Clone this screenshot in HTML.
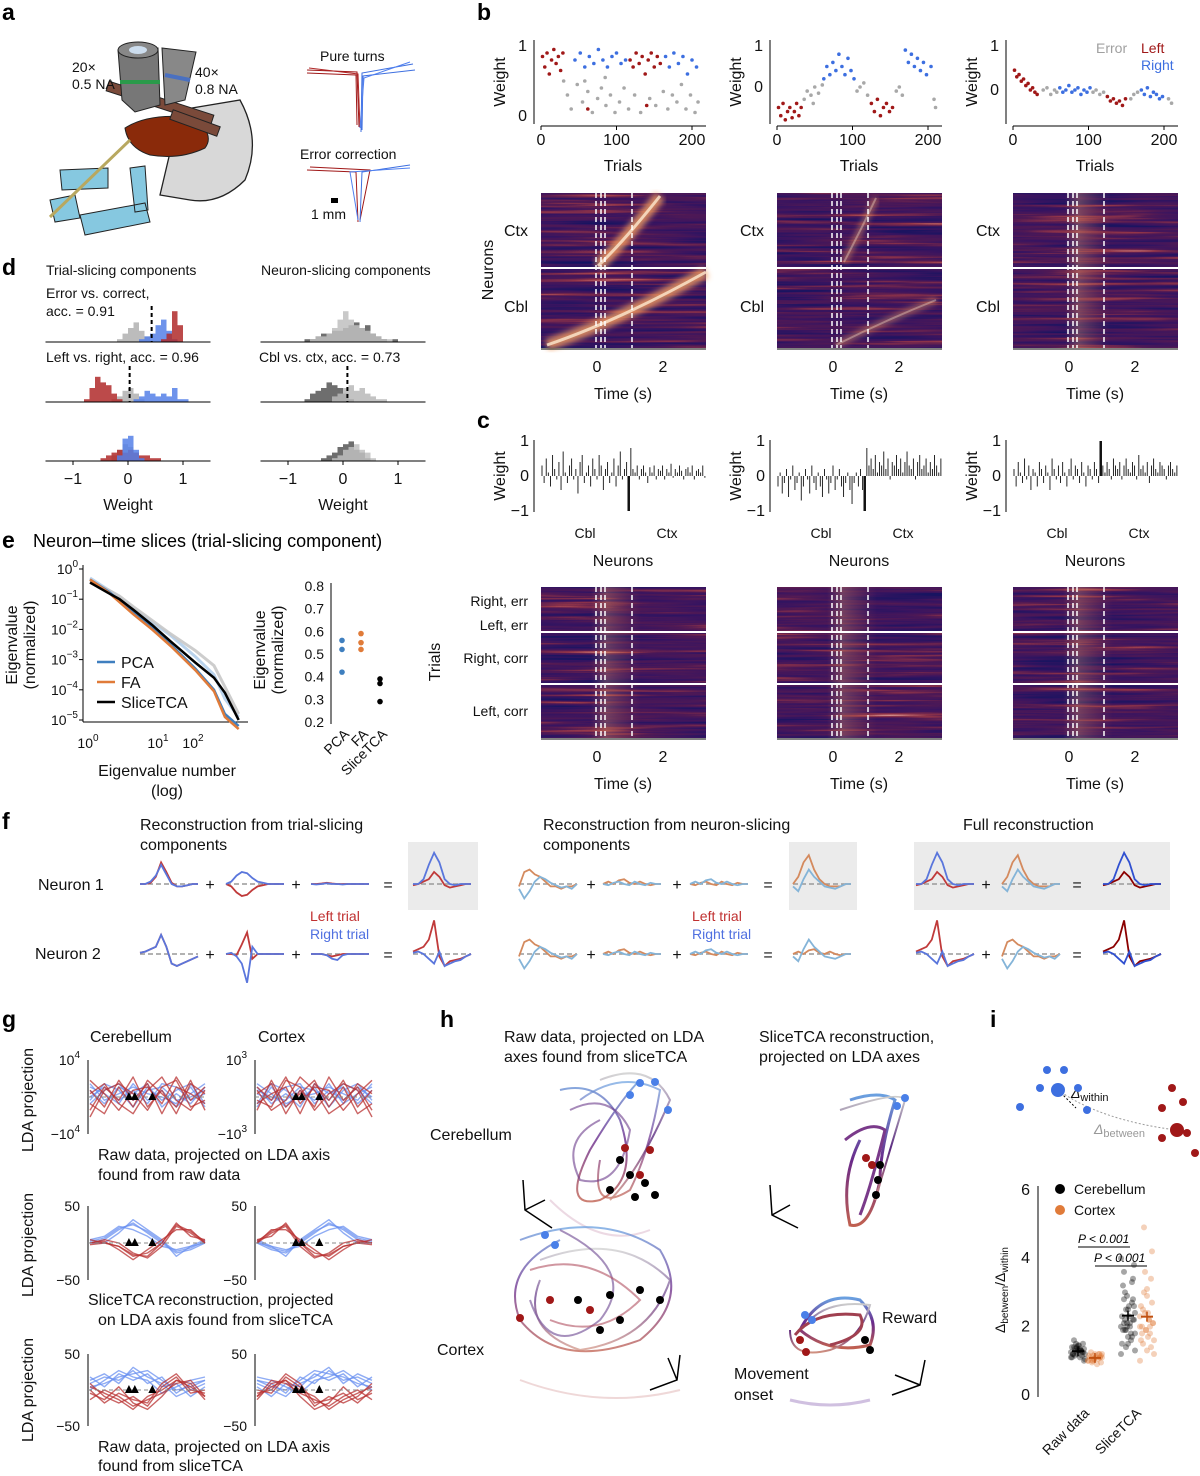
<!DOCTYPE html>
<html><head><meta charset="utf-8">
<style>
html,body{margin:0;padding:0;background:#fff;}
svg{display:block;font-family:"Liberation Sans",sans-serif;}
.t{font-size:16px;fill:#111;}
.s{font-size:14px;fill:#111;}
.L{font-size:23px;font-weight:bold;fill:#000;}
</style></head>
<body>
<svg id="fig" width="1200" height="1476" viewBox="0 0 1200 1476">
<defs>
<filter id="hm" x="0" y="0" width="1" height="1" filterUnits="objectBoundingBox" color-interpolation-filters="sRGB">
<feTurbulence type="fractalNoise" baseFrequency="0.006 0.28" numOctaves="3" seed="4"/>
<feColorMatrix type="matrix" values="1 0 0 0 0 1 0 0 0 0 1 0 0 0 0 0 0 0 0 1"/>
<feComponentTransfer>
<feFuncR type="table" tableValues="0.06 0.1 0.22 0.32 0.6 0.95"/>
<feFuncG type="table" tableValues="0.08 0.08 0.08 0.1 0.22 0.75"/>
<feFuncB type="table" tableValues="0.4 0.38 0.38 0.33 0.28 0.7"/>
</feComponentTransfer>
</filter>
<filter id="blur"><feGaussianBlur stdDeviation="3"/></filter>
<linearGradient id="glow" x1="0" x2="1" y1="0" y2="0">
<stop offset="0" stop-color="#f0a060" stop-opacity="0"/><stop offset="0.3" stop-color="#f7b070" stop-opacity="0.6"/><stop offset="1" stop-color="#e07040" stop-opacity="0"/>
</linearGradient>
<linearGradient id="traj1" x1="0" x2="0" y1="0" y2="1"><stop offset="0" stop-color="#6aa0e0"/><stop offset="0.5" stop-color="#6a2a8a"/><stop offset="1" stop-color="#c06050"/></linearGradient>
<linearGradient id="traj2" x1="0" x2="0" y1="0" y2="1"><stop offset="0" stop-color="#ccc"/><stop offset="0.5" stop-color="#5a2a80"/><stop offset="1" stop-color="#d09080"/></linearGradient>
</defs>

<text class="L" x="2" y="20">a</text>
<text class="L" x="477" y="20">b</text>
<text class="L" x="477" y="428">c</text>
<text class="L" x="2" y="275">d</text>
<text class="L" x="2" y="548">e</text>
<text class="L" x="2" y="829">f</text>
<text class="L" x="2" y="1027">g</text>
<text class="L" x="440" y="1027">h</text>
<text class="L" x="990" y="1027">i</text>

<g>
<path d="M180,110 L240,100 Q262,140 245,180 Q220,205 190,200 L160,195 Z" fill="#d8d8d8" stroke="#222" stroke-width="1.3"/>
<path d="M125,128 Q150,112 195,118 Q215,135 205,148 Q180,160 150,155 Q128,148 125,128Z" fill="#8a2a0a" stroke="#222"/>
<rect x="105" y="98" width="110" height="10" fill="#7a4a3a" stroke="#222" transform="rotate(18 160 103)"/>
<rect x="170" y="118" width="50" height="10" fill="#7a4a3a" stroke="#222" transform="rotate(20 195 123)"/>
<path d="M118,50 L158,48 L160,105 L135,112 L122,100Z" fill="#777" stroke="#222"/>
<ellipse cx="138" cy="50" rx="20" ry="8" fill="#888" stroke="#222"/>
<ellipse cx="138" cy="50" rx="9" ry="4" fill="#cde"/>
<path d="M120,82 L160,82" stroke="#2a9a4a" stroke-width="4"/>
<path d="M162,48 L196,52 L185,100 L165,105Z" fill="#888" stroke="#222"/>
<path d="M165,75 L190,80" stroke="#4a70c0" stroke-width="4"/>
<path d="M60,170 L108,168 L108,188 L62,190Z M50,200 L75,195 L80,218 L55,222Z M80,215 L145,203 L150,222 L85,235Z M130,168 L145,166 L148,210 L135,212Z" fill="#86c8e0" stroke="#222"/>
<line x1="50" y1="217" x2="130" y2="140" stroke="#b8a860" stroke-width="3"/>
</g>
<text class="s" x="72" y="72" font-size="15">20×</text>
<text class="s" x="72" y="89" font-size="15">0.5 NA</text>
<text class="s" x="195" y="77" font-size="15">40×</text>
<text class="s" x="195" y="94" font-size="15">0.8 NA</text>
<text class="s" x="320" y="61">Pure turns</text>
<text class="s" x="300" y="159">Error correction</text>
<rect x="331" y="198" width="7" height="5" fill="#000"/>
<text class="s" x="311" y="219">1 mm</text>
<g fill="none" stroke-width="1">
<path d="M307,70 L357,72 L359,127" stroke="#a01818"/><path d="M307,73 L356,75 L357,125" stroke="#a01818"/><path d="M309,68 L358,74 L360,128" stroke="#b02828"/>
<path d="M413,64 L362,73 L361,132" stroke="#3d6fe0"/><path d="M415,70 L363,76 L362,130" stroke="#3d6fe0"/><path d="M410,62 L364,78 L360,128" stroke="#5080f0"/>
</g>
<g fill="none" stroke-width="1">
<path d="M307,170 L356,172 L358,222" stroke="#a01818"/><path d="M310,167 L370,170 L360,220" stroke="#a01818"/>
<path d="M410,165 L362,172 L360,222" stroke="#3d6fe0"/><path d="M410,168 L350,172 L358,220" stroke="#5080f0"/>
</g>

<text class="s" x="1096" y="53" style="fill:#a0a0a0">Error</text>
<text class="s" x="1141" y="53" style="fill:#a01818">Left</text>
<text class="s" x="1141" y="70" style="fill:#3d6fe0">Right</text>

<text class="s" x="46" y="275">Trial-slicing components</text>
<text class="s" x="261" y="275">Neuron-slicing components</text>
<text class="s" x="46" y="298">Error vs. correct,</text>
<text class="s" x="46" y="316">acc. = 0.91</text>
<text class="s" x="46" y="362">Left vs. right, acc. = 0.96</text>
<text class="s" x="259" y="362">Cbl vs. ctx, acc. = 0.73</text>
<text class="t" x="128" y="510" text-anchor="middle">Weight</text>
<text class="t" x="343" y="510" text-anchor="middle">Weight</text>

<text x="33" y="547" style="font-size:18px">Neuron–time slices (trial-slicing component)</text>
<text class="t" transform="translate(17,645) rotate(-90)" text-anchor="middle">Eigenvalue</text>
<text class="t" transform="translate(35,645) rotate(-90)" text-anchor="middle">(normalized)</text>
<text class="t" x="167" y="776" text-anchor="middle">Eigenvalue number</text>
<text class="t" x="167" y="796" text-anchor="middle">(log)</text>
<text class="t" transform="translate(265,650) rotate(-90)" text-anchor="middle">Eigenvalue</text>
<text class="t" transform="translate(283,650) rotate(-90)" text-anchor="middle">(normalized)</text>

<text class="t" x="140" y="830">Reconstruction from trial-slicing</text>
<text class="t" x="140" y="850">components</text>
<text class="t" x="543" y="830">Reconstruction from neuron-slicing</text>
<text class="t" x="543" y="850">components</text>
<text class="t" x="963" y="830">Full reconstruction</text>
<text class="t" x="38" y="890">Neuron 1</text>
<text class="t" x="35" y="959">Neuron 2</text>
<rect x="408" y="842" width="70" height="68" fill="#ebebeb"/>
<rect x="789" y="842" width="68" height="68" fill="#ebebeb"/>
<rect x="914" y="842" width="256" height="68" fill="#ebebeb"/>
<text class="s" x="310" y="921" style="fill:#c03030">Left trial</text>
<text class="s" x="310" y="939" style="fill:#5070e0">Right trial</text>
<text class="s" x="692" y="921" style="fill:#c03030">Left trial</text>
<text class="s" x="692" y="939" style="fill:#5070e0">Right trial</text>

<text class="t" x="90" y="1042">Cerebellum</text>
<text class="t" x="258" y="1042">Cortex</text>
<text class="t" x="98" y="1160">Raw data, projected on LDA axis</text>
<text class="t" x="98" y="1180">found from raw data</text>
<text class="t" x="88" y="1305">SliceTCA reconstruction, projected</text>
<text class="t" x="98" y="1325">on LDA axis found from sliceTCA</text>
<text class="t" x="98" y="1452">Raw data, projected on LDA axis</text>
<text class="t" x="98" y="1471">found from sliceTCA</text>
<text class="t" transform="translate(33,1100) rotate(-90)" text-anchor="middle">LDA projection</text>
<text class="t" transform="translate(33,1245) rotate(-90)" text-anchor="middle">LDA projection</text>
<text class="t" transform="translate(33,1390) rotate(-90)" text-anchor="middle">LDA projection</text>

<text class="t" x="504" y="1042">Raw data, projected on LDA</text>
<text class="t" x="504" y="1062">axes found from sliceTCA</text>
<text class="t" x="759" y="1042">SliceTCA reconstruction,</text>
<text class="t" x="759" y="1062">projected on LDA axes</text>
<text class="t" x="430" y="1140">Cerebellum</text>
<text class="t" x="437" y="1355">Cortex</text>
<text class="t" x="882" y="1323">Reward</text>
<text class="t" x="734" y="1379">Movement</text>
<text class="t" x="734" y="1400">onset</text>
<g fill="none" stroke-width="2">
<path d="M560,1090 Q600,1080 620,1120 Q640,1180 600,1200 Q560,1210 590,1150 Q620,1100 640,1080" stroke="url(#traj1)" opacity="0.8"/>
<path d="M580,1100 Q620,1070 660,1090 Q650,1150 630,1190 Q590,1215 600,1160" stroke="url(#traj1)" opacity="0.7"/>
<path d="M600,1080 Q650,1060 670,1100 Q640,1170 610,1200" stroke="url(#traj2)" opacity="0.8"/>
<path d="M570,1110 Q610,1090 630,1130 Q620,1190 580,1180 Q560,1140 600,1120" stroke="#6a3a8a" opacity="0.6"/>
<path d="M550,1200 Q600,1250 650,1230" stroke="#e0c0d0" opacity="0.6"/>
<path d="M850,1100 Q880,1090 895,1100 Q880,1150 880,1180 Q870,1230 850,1225 Q840,1180 860,1140" stroke="url(#traj1)" stroke-width="3"/>
<path d="M840,1110 Q900,1090 905,1100 Q890,1150 875,1200" stroke="url(#traj2)" stroke-width="2"/>
<path d="M845,1140 Q870,1120 885,1130 Q870,1190 860,1215" stroke="#7a3a8a" stroke-width="3"/>
<path d="M520,1240 Q600,1210 660,1250 Q690,1300 640,1340 Q560,1370 520,1320 Q500,1270 560,1240" stroke="url(#traj1)" opacity="0.75"/>
<path d="M540,1260 Q620,1230 670,1280 Q650,1340 580,1350 Q520,1330 540,1280" stroke="url(#traj2)" opacity="0.7"/>
<path d="M560,1230 Q640,1270 600,1320 Q550,1360 530,1300" stroke="#8060a0" opacity="0.7"/>
<path d="M530,1270 Q590,1250 640,1300 Q600,1340 550,1320" stroke="#b05060" opacity="0.6"/>
<path d="M520,1380 Q600,1410 680,1390" stroke="#e8c8c8" opacity="0.7"/>
<path d="M800,1330 Q820,1290 860,1300 Q880,1320 870,1345 Q830,1355 800,1330" stroke="url(#traj1)" stroke-width="3"/>
<path d="M810,1320 Q830,1300 870,1305 Q860,1340 830,1350 Q790,1360 790,1330" stroke="url(#traj2)" stroke-width="2"/>
<path d="M795,1335 Q815,1310 860,1315 Q870,1335 830,1345" stroke="#a04050" stroke-width="3"/>
<path d="M790,1400 Q830,1410 870,1400" stroke="#d0c0e0" stroke-width="3"/>
</g>
<g stroke="#000" stroke-width="1.5" fill="none">
<path d="M523,1180 L525,1210 L552,1228 M525,1210 L545,1200"/>
<path d="M770,1185 L772,1215 L798,1228 M772,1215 L790,1205"/>
<path d="M680,1355 L677,1380 L650,1390 M677,1380 L668,1358"/>
<path d="M925,1360 L920,1385 L892,1395 M920,1385 L895,1375"/>
</g>

<g>
<path d="M1058,1090 Q1100,1120 1176,1130" stroke="#999" stroke-dasharray="2 2" fill="none"/>
<path d="M1058,1090 L1076,1108" stroke="#000" stroke-dasharray="2 2" fill="none"/>
</g>
<text class="s" x="1071" y="1098" style="font-style:italic">Δ<tspan font-size="11" dy="3" font-style="normal">within</tspan></text>
<text class="s" x="1094" y="1134" style="font-style:italic;fill:#999">Δ<tspan font-size="11" dy="3" font-style="normal">between</tspan></text>
<text class="s" x="1074" y="1194">Cerebellum</text>
<text class="s" x="1074" y="1215">Cortex</text>
<circle cx="1060" cy="1189" r="5" fill="#000"/>
<circle cx="1060" cy="1210" r="5" fill="#e07b39"/>
<text class="s" transform="translate(1005,1290) rotate(-90)" text-anchor="middle">Δ<tspan font-size="10" dy="3">between</tspan><tspan dy="-3">/Δ</tspan><tspan font-size="10" dy="3">within</tspan></text>
<text class="s" transform="translate(1090,1414) rotate(-45)" text-anchor="end">Raw data</text>
<text class="s" transform="translate(1142,1414) rotate(-45)" text-anchor="end">SliceTCA</text>
<text x="1078" y="1243" style="font-size:12px;font-style:italic">P &lt; 0.001</text>
<text x="1094" y="1262" style="font-size:12px;font-style:italic">P &lt; 0.001</text>
<line x1="1078" y1="1247" x2="1130" y2="1247" stroke="#000"/>
<line x1="1095" y1="1266" x2="1147" y2="1266" stroke="#000"/>
</svg>

<script>
const svg=document.getElementById('fig');
const NS='http://www.w3.org/2000/svg';
function mk(tag,attrs,name,parent){
  const e=document.createElementNS(NS,tag);
  for(const k in attrs) e.setAttribute(k,attrs[k]);
  
  
  (parent||svg).appendChild(e);
  return e;
}
function txt(x,y,s,cls,name,anchor,extra){
  const e=mk('text',Object.assign({x:x,y:y,class:cls||'s','text-anchor':anchor||'middle'},extra||{}),name);
  e.textContent=s;return e;
}
const RED='#a01818', BLUE='#3d6fe0', GREY='#a8a8a8', ORANGE='#e07b39';
const COLS=[541,777,1013];

/* ---------- panel b scatter data ---------- */
const bTrialTicks=[0,100,200];
const b1Red=[[2,.85],[5,.7],[8,.9],[11,.6],[14,.8],[17,.95],[20,.75],[23,.85],[26,.65],[29,.9],[118,.8],[122,.7],[126,.9],[130,.75],[134,.85],[138,.6],[142,.8],[146,.9],[150,.7],[154,.85],[158,.75],[62,.1],[140,.15]];
const b1Blue=[[45,.8],[52,.9],[58,.7],[64,.85],[70,.75],[76,.95],[82,.8],[88,.7],[94,.85],[100,.9],[106,.75],[112,.8],[165,.85],[170,.7],[176,.9],[182,.75],[188,.85],[194,.6],[200,.8],[206,.7]];
const b1Grey=[[35,.3],[40,.1],[48,.45],[55,.2],[62,.35],[68,.05],[75,.25],[80,.4],[86,.15],[92,.3],[98,.05],[104,.2],[110,.4],[116,.1],[124,.3],[132,.05],[144,.25],[152,.15],[162,.35],[168,.1],[174,.3],[180,.2],[186,.45],[192,.1],[198,.3],[204,.05],[208,.2],[30,.5],[58,.5],[85,.55]];
const b2Red=[[2,-.5],[5,-.7],[8,-.4],[11,-.8],[14,-.6],[17,-.5],[20,-.75],[23,-.6],[26,-.4],[29,-.7],[32,-.5],[125,-.4],[129,-.6],[133,-.3],[137,-.7],[141,-.5],[145,-.4],[149,-.6],[153,-.5]];
const b2Blue=[[62,.2],[66,.5],[70,.3],[74,.6],[78,.4],[82,.8],[86,.5],[90,.3],[94,.7],[98,.4],[102,.2],[170,.9],[174,.6],[178,.8],[182,.5],[186,.7],[190,.4],[194,.6],[198,.3],[204,.5]];
const b2Grey=[[36,-.3],[40,-.1],[45,-.2],[50,0],[55,-.15],[60,.05],[106,-.1],[110,0],[115,.1],[120,-.2],[158,-.1],[162,0],[166,-.2],[208,-.3],[210,-.5],[48,-.4]];
const b3Red=[[2,.45],[5,.3],[8,.35],[11,.2],[14,.25],[17,.1],[20,.15],[23,0],[26,.05],[29,-.05],[32,-.1],[125,-.15],[129,-.25],[133,-.2],[137,-.3],[141,-.25],[145,-.35],[149,-.2]];
const b3Blue=[[62,.05],[66,-.05],[70,0],[74,.1],[78,-.05],[82,0],[86,.05],[90,-.1],[94,0],[98,-.05],[102,.05],[170,0],[174,-.1],[178,.05],[182,-.15],[186,-.05],[190,-.1],[194,-.2],[198,-.15]];
const b3Grey=[[40,0],[45,.05],[50,-.1],[55,0],[58,-.05],[106,-.05],[110,0],[115,-.1],[120,-.05],[156,-.2],[160,-.1],[165,-.05],[206,-.2],[210,-.3]];
const bY=[{one:46,zero:116},{one:46,zero:87},{one:46,zero:90}];
const bData=[[b1Grey,b1Red,b1Blue],[b2Grey,b2Red,b2Blue],[b3Grey,b3Red,b3Blue]];
bData.forEach((sets,p)=>{
  const ox=COLS[p], yz=bY[p];
  const xs=t=>ox+t*0.755, ys=v=>yz.zero-(yz.zero-yz.one)*v;
  mk('line',{x1:ox-7,y1:40,x2:ox-7,y2:124,stroke:'#000'},'b-y-axis');
  mk('line',{x1:ox,y1:126,x2:ox+165,y2:126,stroke:'#000'},'b-x-axis');
  [GREY,RED,BLUE].forEach((c,si)=>sets[si].forEach(d=>{
    mk('circle',{cx:xs(d[0]),cy:ys(d[1]),r:1.8,fill:c},'b-trial-point');
  }));
  bTrialTicks.forEach(t=>{txt(xs(t),145,String(t),'t','b-x-tick-label');
    mk('line',{x1:xs(t),y1:126,x2:xs(t),y2:130,stroke:'#000'},'b-x-tick');});
  txt(ox-14,ys(1)+5,'1','t','b-y-tick-label','end');
  txt(ox-14,ys(0)+5,'0','t','b-y-tick-label','end');
  txt(ox+82,171,'Trials','t','b-x-title');
  txt(0,0,'Weight','t','b-y-title','middle',{transform:`translate(${ox-36},82) rotate(-90)`});
});

/* ---------- heatmaps ---------- */
function heatmap(ox,y0,h,name){
  const g=mk('g',{},name);
  mk('rect',{x:ox,y:y0,width:165,height:h,fill:'#2a1448'},'heatmap-bg',g);
  mk('rect',{x:ox,y:y0,width:165,height:h,filter:'url(#hm)'},'heatmap-texture',g);
  return g;
}
const bBands=[["M547,345 Q620,320 706,272","M598,266 Q625,240 660,196"],["M600,345 Q650,320 700,300","M608,262 Q625,230 640,198"],[]];
COLS.forEach((ox,p)=>{
  const g=heatmap(ox,193,155,'b-heatmap');
  bBands[p].forEach(d=>{
    const s=d.replace(/(\d+),/g,(m,a)=>(+a+ox-541)+',');
    mk('path',{d:s,stroke:'#f5a060',fill:'none','stroke-width':p==0?12:6,opacity:p==0?0.8:0.5,filter:'url(#blur)'},'heatmap-band',g);
    mk('path',{d:s,stroke:'#fde8d0',fill:'none','stroke-width':p==0?3:2,opacity:p==0?0.8:0.35},'heatmap-band-core',g);
  });
  if(p==2) mk('rect',{x:ox+52,y:193,width:45,height:155,fill:'url(#glow)',opacity:0.5},'heatmap-glow',g);
  mk('line',{x1:ox,y1:268,x2:ox+165,y2:268,stroke:'#fff','stroke-width':2},'heatmap-area-divider',g);
  [55,60,64,91].forEach(dx=>mk('line',{x1:ox+dx,y1:193,x2:ox+dx,y2:348,stroke:'#fff','stroke-width':1.5,'stroke-dasharray':'5 3'},'event-marker',g));
  mk('line',{x1:ox,y1:349,x2:ox+165,y2:349,stroke:'#000'},'heatmap-x-axis');
  txt(ox-13,236,'Ctx','t','ctx-label','end');
  txt(ox-13,312,'Cbl','t','cbl-label','end');
  txt(ox+56,372,'0','t','time-tick-label'); txt(ox+122,372,'2','t','time-tick-label');
  txt(ox+82,399,'Time (s)','t','time-x-title');
});
txt(0,0,'Neurons','t','b-heatmap-y-title','middle',{transform:'translate(493,270) rotate(-90)'});

/* ---------- panel c bars ---------- */
const c1=[.3,-.2,.5,.1,-.3,.6,.2,-.1,.4,-.4,.7,.1,-.2,.3,.5,-.1,.2,-.5,.4,.6,-.2,.1,.3,-.3,.5,.2,-.1,.6,.3,-.4,.2,.4,-.2,.1,.5,-.3,.3,.7,-.1,.2,.4,-1,.8,.2,.1,.3,-.1,.2,.3,.1,-.2,.25,.1,.3,-.1,.2,.15,.3,-.1,.2,.1,.35,-.05,.2,.1,.3,.15,-.1,.2,.25,.1,.3,-.1,.15,.2,.1,.3,-.05];
const c2=[-.3,.1,-.5,-.2,.2,-.6,-.1,.3,-.4,-.2,.1,-.7,-.3,.2,-.1,-.5,.3,-.2,-.4,.1,-.3,-.6,.2,-.1,-.5,-.2,.3,-.4,-.1,.2,-.3,-.6,-.2,.1,-.4,-.8,-.2,.1,-.3,.2,-.4,-1,.8,.3,.5,.2,.6,.1,.4,.3,.7,.2,.5,-.1,.4,.3,.6,.2,.5,.1,.4,.7,.3,.2,.5,-.1,.4,.6,.2,.3,.5,.1,.4,.2,.6,.3,.1,.5];
const c3=[.2,-.3,.4,.1,-.2,.5,-.1,.3,-.4,.2,.1,-.3,.4,.2,-.2,.3,.1,-.4,.5,.2,-.1,.3,-.2,.4,.1,-.3,.2,.5,-.1,.3,.2,-.2,.4,.1,-.3,.3,.2,-.1,.4,.2,-.2,1,.3,.1,.4,.2,-.1,.5,.3,.2,.4,-.1,.3,.5,.2,.1,.4,.3,-.1,.6,.2,.3,.1,.4,-.2,.3,.5,.2,.1,.4,.3,.2,-.1,.3,.4,.2,.1,.3];
[c1,c2,c3].forEach((arr,p)=>{
  const ox=COLS[p], ys=v=>476-35*v, step=165/arr.length;
  mk('line',{x1:ox-7,y1:440,x2:ox-7,y2:512,stroke:'#000'},'c-y-axis');
  arr.forEach((v,i)=>{
    const big=Math.abs(v)>=0.95;
    mk('line',{x1:ox+i*step+1,x2:ox+i*step+1,y1:ys(0),y2:ys(v),stroke:'#111','stroke-width':big?2.5:0.9},'c-neuron-bar');
  });
  txt(ox-12,446,'1','t','c-y-tick-label','end');txt(ox-12,481,'0','t','c-y-tick-label','end');txt(ox-12,516,'−1','t','c-y-tick-label','end');
  txt(0,0,'Weight','t','c-y-title','middle',{transform:`translate(${ox-36},476) rotate(-90)`});
  txt(ox+44,538,'Cbl','s','c-cbl-label');txt(ox+126,538,'Ctx','s','c-ctx-label');
  txt(ox+82,566,'Neurons','t','c-x-title');
  const g=heatmap(ox,587,151,'c-heatmap');
  mk('rect',{x:ox+50,y:587,width:50,height:151,fill:'url(#glow)',opacity:0.45},'heatmap-glow',g);
  [632,684].forEach(y=>mk('line',{x1:ox,y1:y,x2:ox+165,y2:y,stroke:'#fff','stroke-width':2},'trial-type-divider',g));
  [55,60,64,91].forEach(dx=>mk('line',{x1:ox+dx,y1:587,x2:ox+dx,y2:738,stroke:'#fff','stroke-width':1.5,'stroke-dasharray':'5 3'},'event-marker',g));
  mk('line',{x1:ox,y1:739,x2:ox+165,y2:739,stroke:'#000'},'heatmap-x-axis');
  txt(ox+56,762,'0','t','time-tick-label');txt(ox+122,762,'2','t','time-tick-label');
  txt(ox+82,789,'Time (s)','t','time-x-title');
});
[['Right, err',606],['Left, err',630],['Right, corr',663],['Left, corr',716]].forEach(d=>txt(528,d[1],d[0],'s','trial-type-label','end'));
txt(0,0,'Trials','t','c-heatmap-y-title','middle',{transform:'translate(440,662) rotate(-90)'});

/* ---------- panel d histograms (bins of 0.1 from -1.5) ---------- */
const dL1Grey=[0,0,0,0,0,0,0,0,0,0,0,0,0,1,3,5,7,4,2,0,0,0,0,0,0,0,0,0,0,0];
const dL1Blue=[0,0,0,0,0,0,0,0,0,0,0,0,0,0,0,0,0,1,2,3,6,8,4,1,0,0,0,0,0,0];
const dL1Red =[0,0,0,0,0,0,0,0,0,0,0,0,0,0,0,0,0,0,0,0,0,1,3,11,6,0,0,0,0,0];
const dL2Grey=[0,0,0,0,0,0,0,0,0,0,0,0,1,2,4,5,3,1,0,0,0,0,0,0,0,0,0,0,0,0];
const dL2Red =[0,0,0,0,0,0,0,1,5,9,7,6,3,1,0,0,0,0,0,0,0,0,0,0,0,0,0,0,0,0];
const dL2Blue=[0,0,0,0,0,0,0,0,0,0,0,0,0,0,0,0,1,2,4,3,2,3,2,5,1,1,0,0,0,0];
const dL3Grey=[0,0,0,0,0,0,0,0,0,0,0,0,2,4,6,5,3,1,0,0,0,0,0,0,0,0,0,0,0,0];
const dL3Red =[0,0,0,0,0,0,0,0,0,0,1,2,3,4,3,4,3,2,2,1,1,0,0,0,0,0,0,0,0,0];
const dL3Blue=[0,0,0,0,0,0,0,0,0,0,0,0,0,2,8,9,4,1,0,0,0,0,0,0,0,0,0,0,0,0];
const dR1Light=[0,0,0,0,0,0,0,0,0,1,2,2,3,5,8,11,8,6,5,4,3,2,1,1,0,0,0,0,0,0];
const dR1Dark =[0,0,0,0,0,0,0,0,1,1,2,3,3,4,4,5,6,7,5,6,3,2,1,0,1,0,0,0,0,0];
const dR2Dark =[0,0,0,0,0,0,0,0,1,3,4,5,7,6,5,3,1,0,0,0,0,0,0,0,0,0,0,0,0,0];
const dR2Light=[0,0,0,0,0,0,0,0,0,0,0,0,0,2,3,5,6,4,5,3,2,1,1,0,0,0,0,0,0,0];
const dR3Dark =[0,0,0,0,0,0,0,0,0,0,0,1,2,3,5,6,7,4,3,1,0,0,0,0,0,0,0,0,0,0];
const dR3Light=[0,0,0,0,0,0,0,0,0,0,0,0,0,1,2,4,5,6,4,3,1,0,0,0,0,0,0,0,0,0];
const dTicks=[-1,0,1];
const dPanels=[
 {x0:128,base:342,sets:[[dL1Grey,'#b0b0b0'],[dL1Blue,'#5580e8'],[dL1Red,'#b02a2a']],dash:0.43},
 {x0:128,base:402,sets:[[dL2Grey,'#b0b0b0'],[dL2Red,'#b02a2a'],[dL2Blue,'#5580e8']],dash:0.03},
 {x0:128,base:461,sets:[[dL3Grey,'#b0b0b0'],[dL3Red,'#b02a2a'],[dL3Blue,'#5580e8']],ticks:true},
 {x0:343,base:342,sets:[[dR1Dark,'#555'],[dR1Light,'#c0c0c0']]},
 {x0:343,base:402,sets:[[dR2Dark,'#555'],[dR2Light,'#b8b8b8']],dash:0.08},
 {x0:343,base:461,sets:[[dR3Dark,'#555'],[dR3Light,'#c0c0c0']],ticks:true}];
dPanels.forEach(P=>{
  const xs=v=>P.x0+55*v;
  P.sets.forEach(([arr,col])=>arr.forEach((c,i)=>{ if(c>0)
    mk('rect',{x:xs(-1.5+i*0.1),y:P.base-c*2.8,width:5.5,height:c*2.8,fill:col,opacity:0.85},'d-hist-bar');}));
  mk('line',{x1:xs(-1.5),y1:P.base,x2:xs(1.5),y2:P.base,stroke:'#000'},'d-x-axis');
  if(P.dash!==undefined) mk('line',{x1:xs(P.dash),x2:xs(P.dash),y1:P.base-36,y2:P.base,stroke:'#000','stroke-width':2,'stroke-dasharray':'4 3'},'d-threshold');
  if(P.ticks) dTicks.forEach(t=>{txt(xs(t),484,t<0?'−1':String(t),'t','d-x-tick-label');
    mk('line',{x1:xs(t),x2:xs(t),y1:P.base,y2:P.base+4,stroke:'#000'},'d-x-tick');});
});

/* ---------- panel e ---------- */
const eN=[1,2,3,5,10,20,50,100,150,250];
const ePCA=[-0.35,-0.75,-1.05,-1.45,-1.95,-2.5,-3.3,-4.0,-4.8,-5.2];
const eFA=[-0.35,-0.78,-1.1,-1.5,-2.0,-2.55,-3.35,-4.05,-4.9,-5.3];
const eSlice=[-0.45,-0.8,-1.0,-1.35,-1.85,-2.4,-3.1,-3.6,-4.1,-5.0];
const ePCAlight=[-0.3,-0.7,-0.95,-1.3,-1.75,-2.2,-2.9,-3.5,-4.3,-4.9];
const eSliceLight=[-0.4,-0.7,-0.9,-1.25,-1.7,-2.15,-2.7,-3.2,-3.9,-4.8];
const eYTicks=[0,-1,-2,-3,-4,-5];
const ex=n=>90+Math.log10(n)*62;
const eyy=v=>569+(-v)*30.2;
mk('line',{x1:83,y1:565,x2:83,y2:722,stroke:'#000'},'e-y-axis');
mk('line',{x1:83,y1:722,x2:248,y2:722,stroke:'#000'},'e-x-axis');
eYTicks.forEach(t=>{const e=txt(78,eyy(t)+5,'10','s','e-y-tick-label','end');
  const s=document.createElementNS(NS,'tspan');s.setAttribute('font-size','10');s.setAttribute('dy','-7');s.textContent=t<0?'−'+(-t):String(t);e.appendChild(s);
  mk('line',{x1:79,x2:83,y1:eyy(t),y2:eyy(t),stroke:'#000'},'e-y-tick');});
[[88,0],[158,1],[193,2]].forEach(([x,p])=>{const e=txt(x,748,'10','s','e-x-tick-label');
  const s=document.createElementNS(NS,'tspan');s.setAttribute('font-size','10');s.setAttribute('dy','-7');s.textContent=String(p);e.appendChild(s);});
function eLine(arr,col,w,name,op){
  mk('polyline',{points:arr.map((v,i)=>ex(eN[i])+','+eyy(v)).join(' '),fill:'none',stroke:col,'stroke-width':w,opacity:op||1},name);
}
eLine(ePCAlight,'#a8c8e8',3,'e-pca-light-line',0.8);
eLine(eSliceLight,'#c8c8c8',3,'e-slicetca-light-line',0.9);
eLine(ePCA,'#3f7fbf',2.5,'e-pca-line');
eLine(eFA,ORANGE,2.5,'e-fa-line');
eLine(eSlice,'#000',2.5,'e-slicetca-line');
[['PCA','#3f7fbf',662],['FA',ORANGE,682],['SliceTCA','#000',702]].forEach(([n,c,y])=>{
  mk('line',{x1:97,x2:115,y1:y,y2:y,stroke:c,'stroke-width':2.5},'e-legend-swatch');
  txt(121,y+6,n,'t','e-legend-label','start');});
const e2Cats=['PCA','FA','SliceTCA'];
const e2Vals=[[0.56,0.52,0.42],[0.59,0.55,0.52],[0.39,0.37,0.29]];
const e2Cols=['#3f7fbf',ORANGE,'#000'];
const e2Ticks=[0.2,0.3,0.4,0.5,0.6,0.7,0.8];
const e2y=v=>722-(v-0.2)*226.7, e2x=i=>322+i*19;
mk('line',{x1:331,y1:583,x2:331,y2:724,stroke:'#000'},'e2-y-axis');
e2Ticks.forEach(t=>{txt(324,e2y(t)+5,t.toFixed(1),'s','e2-y-tick-label','end');});
e2Vals.forEach((vals,i)=>vals.forEach(v=>mk('circle',{cx:e2x(i)+20,cy:e2y(v),r:2.8,fill:e2Cols[i]},'e2-point')));
e2Cats.forEach((c,i)=>txt(0,0,c,'s','e2-x-label','end',{transform:`translate(${e2x(i)+28},735) rotate(-45)`}));

/* ---------- panel f mini plots ---------- */
const fPeak=[0,0,.05,.3,.9,.5,.05,-.1,-.1,-.05,0,0];
const fPeakB=[0,0,.1,.35,.8,.4,0,-.1,-.1,-.05,0,0];
const fUp=[0,.1,.35,.5,.45,.25,.1,.05,0,0,0,0];
const fDown=[0,-.1,-.35,-.5,-.45,-.25,-.1,-.05,0,0,0,0];
const fFlat=[0,0,.02,.05,.02,0,0,0,0,0,0,0];
const fFlat2=[0,-.02,0,.03,0,0,-.02,0,0,0,0,0];
const fSumB=[0,0,.2,.8,1.3,.9,.2,0,-.05,0,0,0];
const fSumR=[-.05,0,.1,.2,.5,.3,-.05,-.15,-.1,-.05,0,0];
const fN2a=[.05,.1,.2,.3,.8,.3,-.4,-.5,-.4,-.3,-.2,-.1];
const fN2bR=[0,0,-.05,.4,.9,-.2,0,0,0,0,0,0];
const fN2bB=[0,.05,-.1,-.4,-1.2,.3,0,0,0,0,0,0];
const fN2cR=[0,0,0,-.05,-.1,-.05,0,0,0,0,0,0];
const fN2cB=[0,0,0,-.05,-.2,-.25,-.05,0,0,0,0,0];
const fN2sR=[.1,.2,.3,.6,1.4,-.1,-.5,-.3,-.25,-.2,-.1,0];
const fN2sB=[.05,.1,0,-.2,-.4,.1,-.5,-.4,-.3,-.25,-.1,0];
const fNa=[-.1,.5,.6,.4,.3,.1,-.1,-.1,-.2,-.1,-.1,0];
const fNb=[-.2,-.6,-.3,.1,.3,.2,.05,-.05,-.15,-.1,-.2,0];
const fNc=[0,.1,0,.15,.2,.05,0,.1,0,-.05,0,0];
const fNd=[0,-.05,.05,.1,0,-.05,.1,0,-.05,.05,0,0];
const fNsumR=[0,.3,.9,1.2,.6,.2,0,-.1,-.1,-.1,0,0];
const fNsumB=[-.1,-.3,.2,.6,.3,.1,-.1,-.15,-.2,-.1,0,0];
const fOR='#d48a5e', fLB='#84b4d8', fR='#c03a3a', fB='#5a76dc';
const fPlots=[
 [140,884,fPeak,fPeakB,fR,fB],[226,884,fDown,fUp,fR,fB],[311,884,fFlat,fFlat2,fR,fB],[413,884,fSumR,fSumB,fR,fB],
 [140,954,fN2a,fN2a,fR,fB],[226,954,fN2bR,fN2bB,fR,fB],[311,954,fN2cR,fN2cB,fR,fB],[413,954,fN2sR,fN2sB,fR,fB],
 [519,884,fNa,fNb,fOR,fLB],[603,884,fNc,fNd,fOR,fLB],[690,884,fNd,fNc,fOR,fLB],[793,884,fNsumR,fNsumB,fOR,fLB],
 [519,954,fNa,fNb,fOR,fLB],[603,954,fNc,fNd,fOR,fLB],[690,954,fNd,fNc,fOR,fLB],[793,954,fNc,fNsumB,fOR,fLB],
 [916,884,fSumR,fSumB,fR,fB],[1002,884,fNsumR,fNsumB,fOR,fLB],[1103,884,fSumR,fSumB,'#8b0000','#3050d0'],
 [916,954,fN2sR,fN2sB,fR,fB],[1002,954,fNa,fNb,fOR,fLB],[1103,954,fN2sR,fN2sB,'#8b0000','#3050d0']];
fPlots.forEach(([x,y,r,b,cr,cb])=>{
  mk('line',{x1:x,x2:x+58,y1:y,y2:y,stroke:'#999','stroke-width':1.5,'stroke-dasharray':'5 3'},'f-zero-line');
  [[r,cr],[b,cb]].forEach(([a,c])=>mk('polyline',{points:a.map((v,i)=>(x+i*58/(a.length-1))+','+(y-v*24)).join(' '),fill:'none',stroke:c,'stroke-width':1.8},'f-trace'));
});
[[210,'+'],[296,'+'],[388,'='],[591,'+'],[677,'+'],[768,'='],[986,'+'],[1077,'=']].forEach(([x,s])=>{
  txt(x,890,s,'t','f-operator');txt(x,960,s,'t','f-operator');});

/* ---------- panel g ---------- */
const gR1=[[.2,-.3,.5,-.1,.4,-.5,.3,.1,-.2],[-.4,.3,-.1,.6,-.3,.2,-.5,.4,.1],[.5,.1,-.4,.2,.3,-.2,.6,-.1,.3],[-.2,-.5,.3,-.3,.5,.1,-.3,.5,-.4],[.1,.4,-.2,-.5,.2,.6,-.1,-.4,.2],[-.6,.2,.4,.1,-.4,.3,.5,-.3,-.1]];
const gB1=[[.3,.1,-.2,.4,-.1,.2,-.3,.1,.4],[-.1,.4,.2,-.3,.3,-.1,.2,.4,-.2],[.2,-.2,.3,.1,.4,-.3,.1,-.2,.3],[0,.3,-.1,.2,-.2,.4,.3,-.1,.1],[.4,-.1,.1,.3,.1,0,-.2,.3,-.3],[-.2,.2,.4,-.1,.2,.3,-.1,0,.2]];
const gR2=[[0,.1,0,-.3,-.45,-.1,.5,.3,0],[.1,0,-.1,-.4,-.3,0,.6,.2,.1],[0,.05,-.2,-.5,-.2,.1,.4,.4,0],[-.05,0,-.1,-.35,-.4,0,.55,.35,.05]];
const gB2=[[0,.1,.4,.6,.3,0,-.3,-.2,0],[.1,.2,.5,.4,.2,-.1,-.2,-.1,.1],[0,0,.3,.7,.4,.1,-.4,-.1,0],[.05,.15,.45,.55,.35,.05,-.25,-.15,.05]];
const gR3=[[-.1,-.3,.1,-.4,-.6,-.2,.3,.1,-.2],[.2,-.2,-.4,-.2,-.5,.1,.4,-.1,0],[-.3,0,-.2,-.5,-.3,-.1,.2,.3,-.2],[0,-.4,-.1,-.3,-.4,.2,.5,0,-.1],[.1,-.1,-.3,-.6,-.2,0,.3,.2,-.3]];
const gB3=[[.2,.4,.3,.6,.2,.4,-.1,.2,.3],[.4,.1,.5,.3,.5,.1,.2,-.2,.1],[0,.3,.6,.4,.3,-.1,.1,.3,.4],[.3,.5,.2,.7,.4,.2,-.2,0,.2],[.1,.2,.4,.5,.6,.3,0,.1,.3]];
const gRows=[{cy:1097,h:37,data:[gR1,gB1],ticks:[['10',4,'−10',4],['10',3,'−10',3]]},
             {cy:1243,h:37,data:[gR2,gB2],ticks:[['50','','−50',''],['50','','−50','']]},
             {cy:1390,h:36,data:[gR3,gB3],ticks:[['50','','−50',''],['50','','−50','']]}];
const gTri=[0.35,0.4,0.55];
gRows.forEach(R=>[88,255].forEach((ox,pi)=>{
  mk('line',{x1:ox,y1:R.cy-R.h,x2:ox,y2:R.cy+R.h,stroke:'#000'},'g-y-axis');
  const [reds,blues]=R.data;
  [[blues,'#6a90f0'],[reds,'#b83030']].forEach(([set,c])=>set.forEach((arr)=>{
    const a=pi? arr.slice().reverse():arr;
    let d='';a.forEach((v,i)=>{const x=ox+2+i*115/(a.length-1),y=R.cy-v*R.h*0.9;d+=(i?' L':'M')+x.toFixed(1)+','+y.toFixed(1);});
    mk('path',{d:d,fill:'none',stroke:c,'stroke-width':1.4,opacity:0.75,'stroke-linejoin':'round'},'g-trial-trace');}));
  mk('line',{x1:ox,x2:ox+117,y1:R.cy,y2:R.cy,stroke:'#888','stroke-dasharray':'4 3'},'g-zero-line');
  gTri.forEach(f=>{const x=ox+117*f;mk('path',{d:`M${x-4},${R.cy+3} L${x+4},${R.cy+3} L${x},${R.cy-5}Z`,fill:'#000'},'g-event-marker');});
  const tk=R.ticks[pi];
  const t1=txt(ox-8,R.cy-R.h+5,tk[0],'s','g-y-tick-label','end');
  if(tk[1]!==''){const s=document.createElementNS(NS,'tspan');s.setAttribute('font-size','10');s.setAttribute('dy','-7');s.textContent=tk[1];t1.appendChild(s);}
  const t2=txt(ox-8,R.cy+R.h+5,tk[2],'s','g-y-tick-label','end');
  if(tk[3]!==''){const s=document.createElementNS(NS,'tspan');s.setAttribute('font-size','10');s.setAttribute('dy','-7');s.textContent=tk[3];t2.appendChild(s);}
}));

/* ---------- panel h endpoint dots ---------- */
const hBlue=[[640,1083],[655,1082],[668,1110],[630,1095],[905,1098],[897,1106],[805,1315],[812,1320],[545,1235],[555,1245]];
const hRed=[[625,1148],[650,1150],[640,1175],[866,1158],[872,1165],[520,1318],[550,1300],[590,1310],[800,1340],[806,1352]];
const hBlack=[[620,1160],[630,1175],[645,1183],[655,1195],[635,1197],[610,1190],[880,1165],[878,1180],[876,1195],[578,1300],[610,1295],[640,1290],[660,1300],[620,1320],[865,1340],[870,1350],[600,1330]];
[[hBlue,'#4a80e8'],[hRed,'#a01818'],[hBlack,'#000']].forEach(([set,c])=>set.forEach(p=>mk('circle',{cx:p[0],cy:p[1],r:4,fill:c},'h-endpoint')));

/* ---------- panel i ---------- */
const iBlueDots=[[1020,1107,4],[1040,1088,4],[1047,1070,4],[1064,1070,4],[1058,1090,7],[1078,1088,4],[1087,1110,4]];
const iRedDots=[[1162,1108,4],[1172,1088,4],[1183,1102,4],[1177,1130,7],[1162,1138,4],[1187,1133,4],[1195,1153,4]];
iBlueDots.forEach(p=>mk('circle',{cx:p[0],cy:p[1],r:p[2],fill:'#3d6fe0'},'i-cluster-point'));
iRedDots.forEach(p=>mk('circle',{cx:p[0],cy:p[1],r:p[2],fill:'#a01818'},'i-cluster-point'));
const iTicks=[0,2,4,6];
const iRawCbl=[1.1,1.3,1.2,1.4,1.0,1.5,1.25,1.35,1.15,1.6,1.3,1.2,1.1,1.4,1.3,1.25,1.45,1.05,1.2,1.35,1.3,1.5,1.15,1.25,1.4,1.3,1.2,1.35,1.1,1.45];
const iRawCtx=[1.0,1.1,1.2,1.05,0.95,1.15,1.1,1.0,1.2,1.25,1.05,1.1,0.9,1.15,1.1,1.0,1.2,1.1,1.05,1.15,1.0,1.1,0.95,1.2];
const iSliceCbl=[1.2,1.5,1.8,2.0,2.2,2.5,2.8,3.0,3.3,3.6,1.6,1.9,2.1,2.3,2.6,2.0,1.7,2.4,2.9,3.8,1.4,2.2,1.9,2.7,2.1,1.8,3.2,2.0,1.5,2.3,4.0,2.5,1.3,2.1,2.6,1.9,3.4,2.2,1.7,2.8];
const iSliceCtx=[1.0,1.3,1.6,1.9,2.1,2.4,2.7,3.0,3.4,1.5,1.8,2.0,2.2,2.6,1.7,2.3,2.9,1.2,1.9,2.1,3.6,4.2,4.9,1.4,2.5,2.0,1.8,2.2,1.6,2.4,2.0,3.1];
const iy=v=>1395-v*34.2;
mk('line',{x1:1038,y1:1186,x2:1038,y2:1397,stroke:'#000'},'i-y-axis');
iTicks.forEach(t=>txt(1030,iy(t)+5,String(t),'t','i-y-tick-label','end'));
[[iRawCbl,1078,'#000'],[iRawCtx,1095,ORANGE],[iSliceCbl,1128,'#000'],[iSliceCtx,1147,ORANGE]].forEach(([arr,cx,c])=>{
  arr.forEach((v,i)=>mk('circle',{cx:cx+((i*7)%15-7),cy:iy(v),r:3,fill:c,opacity:0.35},'i-strip-point'));
  const m=arr.reduce((a,b)=>a+b,0)/arr.length;
  mk('line',{x1:cx-6,x2:cx+6,y1:iy(m),y2:iy(m),stroke:c==='#000'?'#000':'#c05010','stroke-width':2},'i-mean-bar');
  mk('line',{x1:cx,x2:cx,y1:iy(m)-5,y2:iy(m)+5,stroke:c==='#000'?'#000':'#c05010','stroke-width':1.5},'i-error-bar');
});
</script>
</body></html>
